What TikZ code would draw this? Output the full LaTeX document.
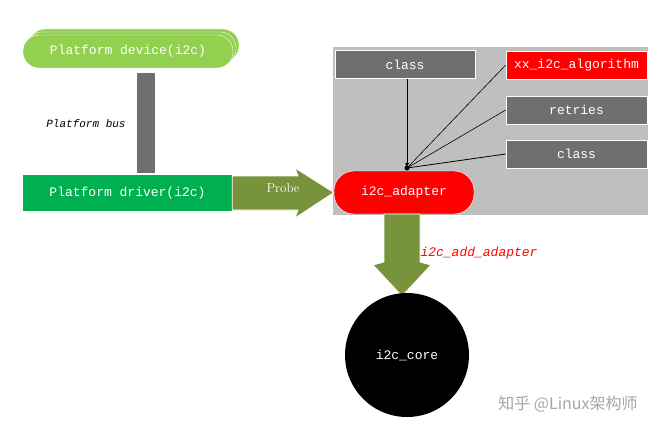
\documentclass[tikz,border=0pt]{standalone}
\usepackage{fontspec}
\setmonofont{Liberation Mono}
\newfontfamily\cjk{Noto Sans CJK SC}
\definecolor{lg}{HTML}{92D050}
\definecolor{dg}{HTML}{00B050}
\definecolor{ol}{HTML}{77933C}
\definecolor{gb}{HTML}{6F6F6F}
\definecolor{bg}{HTML}{BFBFBF}
\tikzset{
 tf/.style={font=\ttfamily\fontsize{13}{15}\selectfont},
 box/.style={draw=white,line width=0.6pt,fill=gb,text=white,tf,minimum width=141pt,minimum height=28pt,inner sep=0pt},
 redbox/.style={box,fill=red},
 fat/.style={draw=white,line width=0.8pt,fill=ol},
}
\begin{document}
\begin{tikzpicture}[x=1pt,y=-1pt]
\useasboundingbox (0,0) rectangle (672,432);
\foreach \d in {6,3}{\draw[white,fill=lg,rounded corners=16pt] (23+\d,35-\d) rectangle (233+\d,68-\d);}
\node[draw=white,fill=lg,rounded corners=16pt,minimum width=210pt,minimum height=33pt,inner sep=0pt,text=white,tf] (dev) at (128,51.5) {Platform device(i2c)};
\fill[gb] (137,73) rectangle (155,173);
\node[font=\ttfamily\itshape\fontsize{11}{13}\selectfont] (bus) at (86,124) {Platform bus};
\node[fill=dg,text=white,minimum width=209pt,minimum height=36pt,inner sep=0pt,tf] (drv) at (127.5,193) {Platform driver(i2c)};
\fill[bg] (333,47) rectangle (648,215);
\node[box,minimum width=140pt] (c1) at (405,64.5) {class};
\node[redbox] (alg) at (576.5,65) {xx\_i2c\_algorithm};
\node[box] (ret) at (576.5,110) {retries};
\node[box] (c2) at (576.5,154) {class};
\node[draw=white,fill=red,rounded corners=20pt,minimum width=140pt,minimum height=43pt,inner sep=0pt,text=white,tf] (ad) at (404,192.5) {i2c\_adapter};
\coordinate (pt) at (407,168);
\draw[line width=0.8pt,-latex] (c1.south -| pt) -- (pt);
\draw[line width=0.6pt] (alg.west) -- (pt);
\draw[line width=0.6pt] (ret.west) -- (pt);
\draw[line width=0.8pt] (c2.west) -- (pt);
\fill (pt) circle (2.5pt);
\draw[fat] (drv.east |- 0,176) -- (298,176) -- (295,168) -- (ad.west) -- (295,218) -- (298,210) -- (drv.east |- 0,210) -- cycle;
\node[text=white,font=\fontsize{13}{15}\selectfont,anchor=west] (pl) at (263,188) {Probe};
\draw[fat] (384,214) -- (384,262) -- (373,265) -- (402,296) -- (431,265) -- (420,262) -- (420,214) -- cycle;
\node[text=red,font=\ttfamily\itshape\fontsize{13}{15}\selectfont,anchor=west] (lab) at (417,253) {i2c\_add\_adapter};
\node[circle,fill=black,minimum size=124pt,inner sep=0pt,text=white,tf] (core) at (407,355) {i2c\_core};
\node[text=gray!70,font=\cjk\fontsize{16}{18}\selectfont] (wm) at (568,404) {知乎 @Linux架构师};
\end{tikzpicture}
\end{document}
